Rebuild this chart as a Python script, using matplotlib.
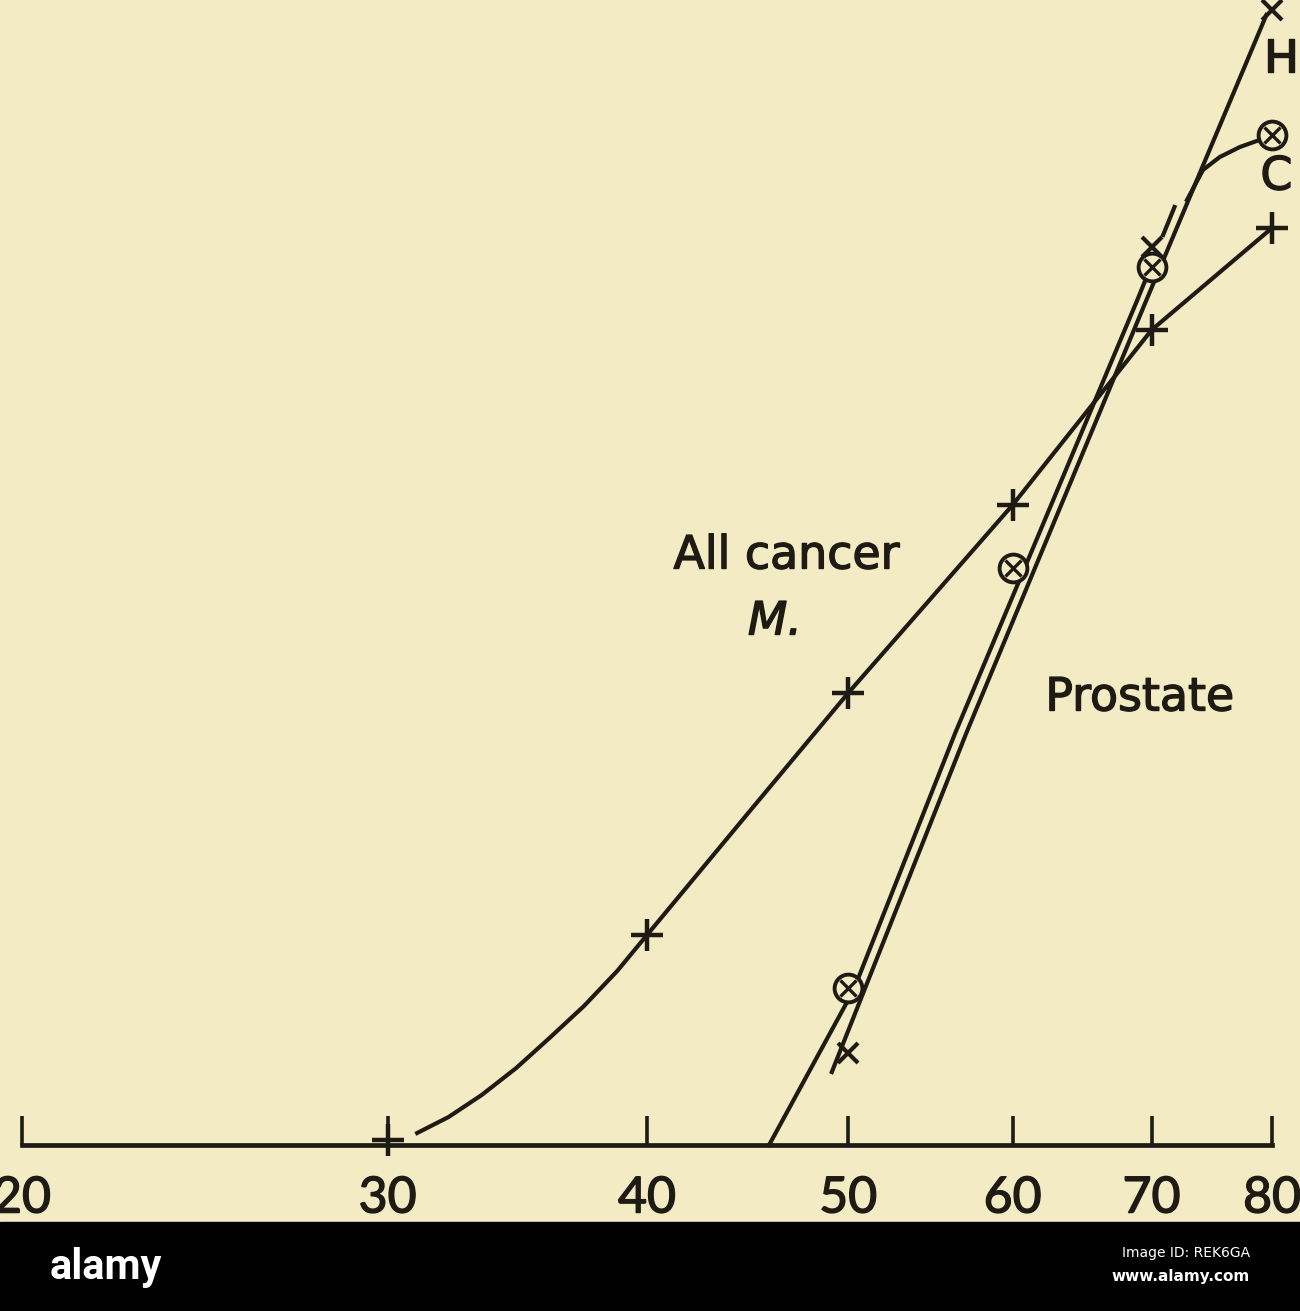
import matplotlib.pyplot as plt
import matplotlib.patheffects as pe
from matplotlib.patches import Rectangle
from matplotlib.ticker import FixedLocator, FixedFormatter, NullLocator

# x: age in years (log scale), y: log rate in arbitrary units above the baseline
tick_ages = [20, 30, 40, 50, 60, 70, 80]
tick_labels = ['20', '30', '40', '50', '60', '70', '80']

# all cancer, males (+)
all_pt_ages = [30, 40, 50, 60, 70, 80]
all_pt_vals = [0.05, 2.10, 4.52, 6.40, 8.15, 9.17]
all_line_ages = [31.0, 32.1, 33.3, 34.6, 35.9, 37.3, 38.7, 40, 45, 50, 60, 70, 80]
all_line_vals = [0.12, 0.28, 0.50, 0.77, 1.07, 1.39, 1.74, 2.10, 3.38, 4.52, 6.40, 8.15, 9.17]

# prostate, series H (x)
h_pt_ages = [50, 70, 80]
h_pt_vals = [0.92, 8.98, 11.35]
h_line_ages = [49.1, 57.0, 69.6, 79.5]
h_line_vals = [0.73, 4.12, 8.45, 11.30]

# prostate, series C (circled x)
c_pt_ages = [50, 60, 70, 80]
c_pt_vals = [1.57, 5.77, 8.78, 10.10]
c_line_ages = [45.8, 50.3, 56.3, 68.9, 69.9]
c_line_vals = [0.0, 1.55, 4.12, 8.45, 8.77]
c_dash_ages = [70.9, 71.8]
c_dash_vals = [9.10, 9.38]
c_curve_ages = [72.8, 74.1, 75.5, 77.2, 78.9]
c_curve_vals = [9.45, 9.75, 9.88, 9.98, 10.05]

bg = '#f3ebc4'
ink = '#1e1a14'
bold = [pe.withStroke(linewidth=1.0, foreground=ink)]

fig = plt.figure(figsize=(13, 13.11), dpi=100, facecolor=bg)
ax = fig.add_axes([22 / 1300, (1311 - 1145) / 1311, 1250 / 1300, 1145 / 1311])
ax.set_facecolor('none')
ax.set_xscale('log')
ax.set_xlim(20, 80)
ax.set_ylim(0, 11.45)

lw = 3.0
ax.plot(all_line_ages, all_line_vals, color=ink, lw=lw, clip_on=False)
ax.plot(all_pt_ages, all_pt_vals, ls='none', marker='+', ms=23, mew=3.2, color=ink, clip_on=False)

ax.plot(h_line_ages, h_line_vals, color=ink, lw=lw, clip_on=False)
ax.plot(h_pt_ages, h_pt_vals, ls='none', marker='x', ms=15, mew=3, color=ink, clip_on=False)

ax.plot(c_line_ages, c_line_vals, color=ink, lw=lw, clip_on=False)
ax.plot(c_dash_ages, c_dash_vals, color=ink, lw=lw, clip_on=False)
ax.plot(c_curve_ages, c_curve_vals, color=ink, lw=lw, clip_on=False)
ax.plot(c_pt_ages, c_pt_vals, ls='none', marker='o', ms=20, mew=2.8, mfc=bg, color=ink, clip_on=False)
ax.plot(c_pt_ages, c_pt_vals, ls='none', marker='x', ms=11, mew=2.4, color=ink, clip_on=False)

for s in ['left', 'right', 'top']:
    ax.spines[s].set_visible(False)
ax.spines['bottom'].set_linewidth(3.4)
ax.spines['bottom'].set_color(ink)

ax.xaxis.set_major_locator(FixedLocator(tick_ages))
ax.xaxis.set_major_formatter(FixedFormatter(tick_labels))
ax.xaxis.set_minor_locator(NullLocator())
ax.tick_params(axis='x', direction='in', length=21, width=2.6, color=ink, pad=22,
               labelsize=36, labelcolor=ink)
for lab in ax.get_xticklabels():
    lab.set_family('Lato')
    lab.set_path_effects(bold)
ax.set_yticks([])

tf = dict(color=ink, family='DejaVu Sans', fontsize=33, ha='center', va='center',
          path_effects=bold)
ax.text(46.7, 5.89, 'All cancer', **tf)
ax.text(46.1, 5.23, 'M.', style='italic', **tf)
ax.text(69.1, 4.47, 'Prostate', **tf)
ax.text(80.8, 10.85, 'H', clip_on=False, **tf)
ax.text(80.4, 9.68, 'C', clip_on=False, **tf)

# stock photo strip at the bottom
fig.patches.append(Rectangle((0, 0), 1, 89 / 1311, transform=fig.transFigure,
                             color='black', zorder=5))
fig.text(50 / 1300, (1311 - 1268) / 1311, 'alamy', color='white', fontsize=30,
         fontweight='bold', family='Roboto', va='center', ha='left', zorder=6)
fig.text(1250 / 1300, (1311 - 1253) / 1311, 'Image ID: REK6GA', color='white',
         fontsize=10, va='center', ha='right', zorder=6)
fig.text(1250 / 1300, (1311 - 1277) / 1311, 'www.alamy.com', color='white',
         fontsize=11, fontweight='bold', va='center', ha='right', zorder=6)

fig.savefig('out.png', dpi=100, facecolor=bg)
